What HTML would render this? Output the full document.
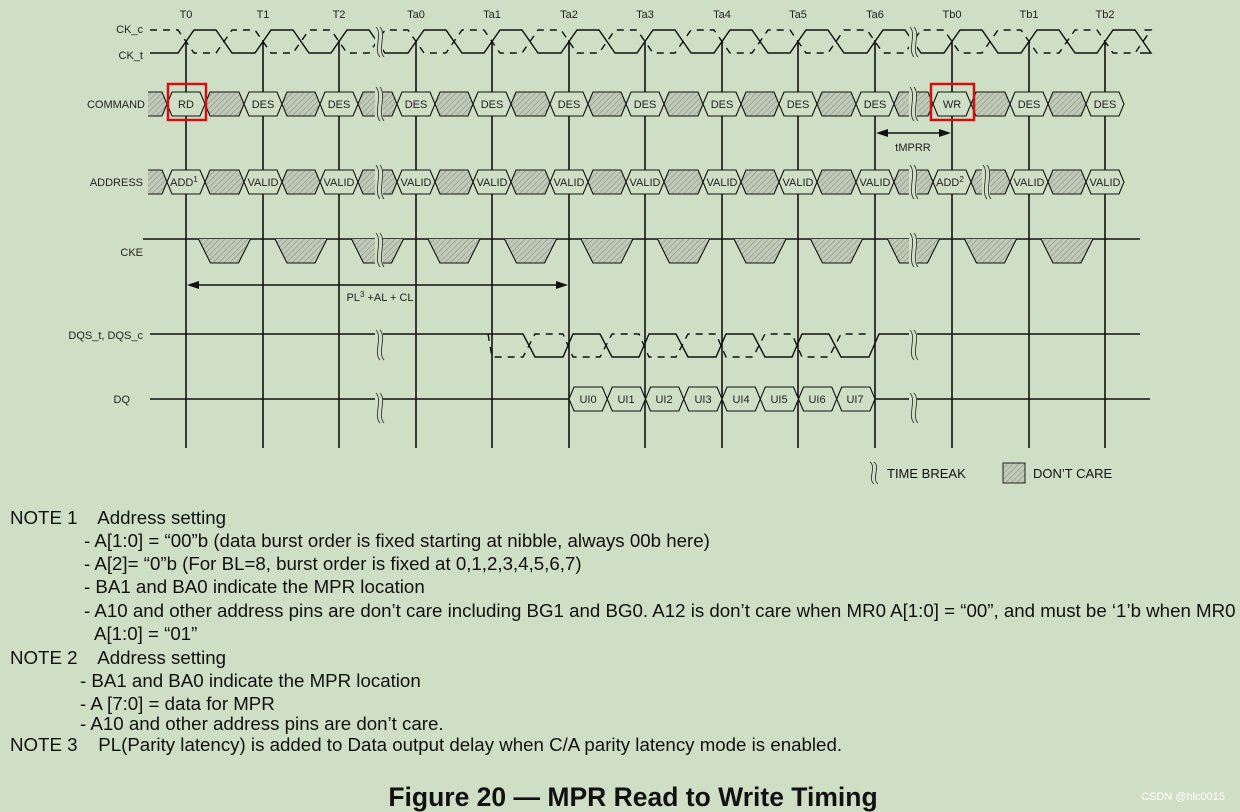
<!DOCTYPE html>
<html><head><meta charset="utf-8"><style>
body{margin:0;width:1240px;height:812px;background:#cfdfc5;overflow:hidden;position:relative;font-family:"Liberation Sans",sans-serif}
svg{position:absolute;left:0;top:0}
.n{position:absolute;font-size:18.7px;color:#111;white-space:nowrap}
.t{font-size:11px;fill:#222;font-family:"Liberation Sans",sans-serif}
</style></head><body>
<svg id="s" width="1240" height="812" xmlns="http://www.w3.org/2000/svg">
<defs><pattern id="h" width="4" height="4" patternUnits="userSpaceOnUse" patternTransform="rotate(45)"><rect width="4" height="4" fill="#bfcab8"/><line x1="0" y1="0" x2="0" y2="4" stroke="#8a9485" stroke-width="1.2"/></pattern></defs>
<g id="g"></g>
<g class="t" text-anchor="end">
<text x="143" y="33">CK_c</text><text x="143" y="59">CK_t</text><text x="145" y="108">COMMAND</text><text x="143" y="186">ADDRESS</text><text x="143" y="256">CKE</text><text x="143" y="339">DQS_t, DQS_c</text><text x="130" y="403">DQ</text>
</g>
<g class="t" text-anchor="middle">
<text x="186" y="18">T0</text><text x="263" y="18">T1</text><text x="339" y="18">T2</text><text x="416" y="18">Ta0</text><text x="492" y="18">Ta1</text><text x="569" y="18">Ta2</text><text x="645" y="18">Ta3</text><text x="722" y="18">Ta4</text><text x="798" y="18">Ta5</text><text x="875" y="18">Ta6</text><text x="952" y="18">Tb0</text><text x="1029" y="18">Tb1</text><text x="1105" y="18">Tb2</text>
<text x="186" y="108">RD</text><text x="263" y="108">DES</text><text x="339" y="108">DES</text><text x="416" y="108">DES</text><text x="492" y="108">DES</text><text x="569" y="108">DES</text><text x="645" y="108">DES</text><text x="722" y="108">DES</text><text x="798" y="108">DES</text><text x="875" y="108">DES</text><text x="952" y="108">WR</text><text x="1029" y="108">DES</text><text x="1105" y="108">DES</text>
<text x="184" y="186">ADD<tspan font-size="8" dy="-4">1</tspan></text><text x="263" y="186">VALID</text><text x="339" y="186">VALID</text><text x="416" y="186">VALID</text><text x="492" y="186">VALID</text><text x="569" y="186">VALID</text><text x="645" y="186">VALID</text><text x="722" y="186">VALID</text><text x="798" y="186">VALID</text><text x="875" y="186">VALID</text><text x="950" y="186">ADD<tspan font-size="8" dy="-4">2</tspan></text><text x="1029" y="186">VALID</text><text x="1105" y="186">VALID</text>
<text x="588" y="403">UI0</text><text x="626" y="403">UI1</text><text x="664" y="403">UI2</text><text x="703" y="403">UI3</text><text x="741" y="403">UI4</text><text x="779" y="403">UI5</text><text x="817" y="403">UI6</text><text x="855" y="403">UI7</text>
<text x="913" y="151">tMPRR</text>
<text x="380" y="301">PL<tspan font-size="8" dy="-4">3</tspan><tspan dy="4"> +AL + CL</tspan></text>
</g>
<text x="887" y="478" font-size="13" fill="#111" font-family="Liberation Sans">TIME BREAK</text>
<text x="1033" y="478" font-size="13" fill="#111" font-family="Liberation Sans">DON’T CARE</text>
<rect x="1003" y="463" width="22" height="20" fill="url(#h)" stroke="#222"/>
<rect x="168" y="84" width="38" height="36" fill="none" stroke="#d01010" stroke-width="2.5"/>
<rect x="931" y="84" width="43" height="36" fill="none" stroke="#d01010" stroke-width="2.5"/>
<text x="633" y="806" font-size="26.5" font-weight="bold" text-anchor="middle" fill="#111" font-family="Liberation Sans">Figure 20 — MPR Read to Write Timing</text>
<text x="1225" y="800" font-size="11" text-anchor="end" fill="#fff" font-family="Liberation Sans">CSDN @hlc0015</text>
</svg>
<div class="n" style="left:10px;top:507px">NOTE 1&nbsp;&nbsp;&nbsp; Address setting</div>
<div class="n" style="left:84px;top:530px">- A[1:0] = “00”b (data burst order is fixed starting at nibble, always 00b here)</div>
<div class="n" style="left:84px;top:553px">- A[2]= “0”b (For BL=8, burst order is fixed at 0,1,2,3,4,5,6,7)</div>
<div class="n" style="left:84px;top:576px">- BA1 and BA0 indicate the MPR location</div>
<div class="n" style="left:84px;top:600px">- A10 and other address pins are don’t care including BG1 and BG0. A12 is don’t care when MR0 A[1:0] = “00”, and must be ‘1’b when MR0</div>
<div class="n" style="left:94px;top:623px">A[1:0] = “01”</div>
<div class="n" style="left:10px;top:647px">NOTE 2&nbsp;&nbsp;&nbsp; Address setting</div>
<div class="n" style="left:80px;top:670px">- BA1 and BA0 indicate the MPR location</div>
<div class="n" style="left:80px;top:693px">- A [7:0] = data for MPR</div>
<div class="n" style="left:80px;top:713px">- A10 and other address pins are don’t care.</div>
<div class="n" style="left:10px;top:734px">NOTE 3&nbsp;&nbsp;&nbsp; PL(Parity latency) is added to Data output delay when C/A parity latency mode is enabled.</div>
<script>
var T=[186,263,339,416,492,569,645,722,798,875,952,1029,1105];
var out='';
function L(a,b,c,d,w,dash){out+='<line x1="'+a+'" y1="'+b+'" x2="'+c+'" y2="'+d+'" stroke="#111" stroke-width="'+(w||1.3)+'"'+(dash?' stroke-dasharray="7,6"':'')+'/>';}
function P(pts,fill,w,dash){out+='<polyline points="'+pts+'" fill="'+(fill||'none')+'" stroke="#111" stroke-width="'+(w||1.3)+'"'+(dash?' stroke-dasharray="7,6"':'')+'/>';}
function hex(x1,x2,y,h,fill){var p=5,t=y-h/2,b=y+h/2;P([x1,y,x1+p,t,x2-p,t,x2,y,x2-p,b,x1+p,b,x1,y].join(' '),fill,1.1);}
T.forEach(function(x){L(x,40,x,448,1.6);});
var hi=30,lo=53;
var a=[150,lo],b=[150,hi];
T.forEach(function(x){a.push(x-8,lo,x+8,hi,x+30,hi,x+46,lo);b.push(x-8,hi,x+8,lo,x+30,lo,x+46,hi);});
a.push(1140,lo);b.push(1140,hi);
P(a.join(' '),null,1.4);P(b.join(' '),null,1.4,true);
[104,182].forEach(function(y){
  P([148,y-12,162,y-12,167,y,162,y+12,148,y+12].join(' '),'url(#h)',1.1);
  for(var i=0;i<T.length;i++){hex(T[i]-19,T[i]+19,y,24,'#cfdfc5');if(i<T.length-1)hex(T[i]+19,T[i+1]-19,y,24,'url(#h)');}
});
L(143,239,1140,239,1.6);
for(var i=0;i<T.length-1;i++){var c=(T[i]+T[i+1])/2;P([c-26,239,c-14,263,c+14,263,c+26,239].join(' '),'url(#h)',1.1);}
function arr(x1,x2,y){L(x1+8,y,x2-8,y,1.4);out+='<polygon points="'+x1+','+y+' '+(x1+12)+','+(y-4)+' '+(x1+12)+','+(y+4)+'" fill="#111"/><polygon points="'+x2+','+y+' '+(x2-12)+','+(y-4)+' '+(x2-12)+','+(y+4)+'" fill="#111"/>';}
arr(187,568,285);arr(876,951,133);
var d=[150,334,488,334],e=[488,334,492,357];
for(var i=4;i<9;i++){var x=T[i],n=T[i+1];d.push(x+31,334,x+43,357,n-6,357,n+4,334);e.push(x+31,357,x+43,334,n-6,334);if(i<8)e.push(n+4,357);}
d.push(1140,334);
P(d.join(' '),null,1.4);P(e.join(' '),null,1.4,true);
L(150,399,1150,399,1.4);
for(var k=0;k<8;k++){var x1=569+k*38.25;hex(x1,x1+38.25,399,24,'#cfdfc5');}
function tb(x,y,h){out+='<rect x="'+(x-3)+'" y="'+(y-h/2)+'" width="8" height="'+h+'" fill="#cfdfc5"/>';
 for(var o=0;o<2;o++){var xx=x+o*4;out+='<path d="M'+(xx-2)+' '+(y-h/2)+' C'+(xx+5)+' '+(y-h/4)+' '+(xx-5)+' '+(y+h/4)+' '+(xx+2)+' '+(y+h/2)+'" fill="none" stroke="#333" stroke-width="0.9"/>';}}
[[378,42,30],[378,104,34],[378,182,34],[378,250,34],[378,345,30],[378,408,30],[912,42,30],[912,104,34],[912,182,34],[912,250,34],[912,345,30],[912,408,30],[985,182,34],[872,473,22]].forEach(function(q){tb(q[0],q[1],q[2]);});
document.getElementById('g').innerHTML=out;
</script>
</body></html>
